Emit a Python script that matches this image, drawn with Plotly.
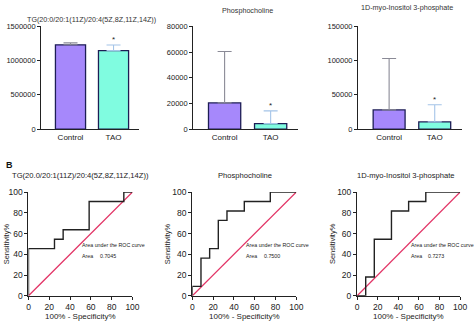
import plotly.graph_objects as go

W, H = 474, 326

# ---------------- data ----------------
categories = ["Control", "TAO"]

tg_means = [1230000, 1145000]
tg_err = [28000, 83000]
pc_means = [20400, 4300]
pc_err = [40000, 9900]
ins_means = [28000, 10500]
ins_err = [75000, 25000]

tg_ticks = [0, 500000, 1000000, 1500000]
pc_ticks = [0, 20000, 40000, 60000, 80000]
ins_ticks = [0, 50000, 100000, 150000]

bar_titles = ["TG(20:0/20:1(11Z)/20:4(5Z,8Z,11Z,14Z))", "Phosphocholine",
              "1D-myo-Inositol 3-phosphate"]
roc_titles = ["TG(20.0/20:1(11Z)/20:4(5Z,8Z,11Z,14Z))", "Phosphocholine",
              "1D-myo-Inositol 3-phosphate"]

# ROC step vertices (100% - specificity %, sensitivity %)
tg_fpr = [0, 0, 25, 33.33, 58.33, 91.67, 100]
tg_tpr = [0, 45.45, 54.55, 63.64, 90.91, 100, 100]
pc_fpr = [0, 0, 8.33, 16.67, 25, 33.33, 50, 75, 100]
pc_tpr = [0, 9.09, 36.36, 45.45, 72.73, 81.82, 90.91, 100, 100]
ins_fpr = [0, 8.33, 16.67, 33.33, 50, 66.67, 100]
ins_tpr = [0, 18.18, 54.55, 81.82, 90.91, 100, 100]
auc_values = ["0.7045", "0.7500", "0.7273"]
roc_ticks = [0, 20, 40, 60, 80, 100]

# ---------------- styling ----------------
FONT = "Liberation Sans, Arial, sans-serif"
BAR_COLORS = ["#a688fb", "#80fce0"]
ERR_COLORS = ["#8a8a96", "#a4c4e8"]
OUTLINE = "#1d1d55"
AX = "#222222"
RED = "#e23466"


def fx(p):
    return p / W


def fy(p):
    return 1 - p / H


def paper_text(x, y, text, size, color="#222", angle=0, xanchor="center"):
    return dict(x=fx(x), y=fy(y), xref="paper", yref="paper", text=text,
                showarrow=False, xanchor=xanchor, yanchor="middle",
                textangle=angle, font=dict(size=size, family=FONT, color=color))


fig = go.Figure()

bar_sets = [(tg_means, tg_err, tg_ticks), (pc_means, pc_err, pc_ticks),
            (ins_means, ins_err, ins_ticks)]
bar_xdom = [(40, 140), (195, 302), (363, 469)]
bar_ydom = (22, 128)
title_y = [15, 6, 3]
title_x = [91, 250, 413]

layout = dict(width=W, height=H, autosize=False,
              margin=dict(l=0, r=0, t=0, b=0),
              paper_bgcolor="white", plot_bgcolor="white",
              showlegend=False, font=dict(family=FONT, color="#222"))
annotations = []

for i, (means, errs, ticks) in enumerate(bar_sets):
    n = i + 1
    xa = "x" if n == 1 else f"x{n}"
    ya = "y" if n == 1 else f"y{n}"
    for j in range(2):
        fig.add_trace(go.Bar(
            x=[categories[j]], y=[means[j]], xaxis=xa, yaxis=ya,
            width=0.7,
            marker=dict(color=BAR_COLORS[j], line=dict(color=OUTLINE, width=1.3)),
            error_y=dict(type="data", array=[errs[j]], arrayminus=[0],
                         symmetric=False, color=ERR_COLORS[j],
                         thickness=1.1, width=7),
        ))
    # significance asterisk above TAO
    annotations.append(dict(x=categories[1], y=means[1] + errs[1], xref=xa, yref=ya,
                            text="*", showarrow=False, yshift=5,
                            xanchor="center", yanchor="middle",
                            font=dict(size=8, family=FONT, color="#222")))
    d0, d1 = bar_xdom[i]
    layout["xaxis" if n == 1 else f"xaxis{n}"] = dict(
        domain=[fx(d0), fx(d1)], anchor=ya, type="category",
        range=[-0.68, 1.6], showline=True, linecolor=AX, linewidth=1.2,
        ticks="", showgrid=False, zeroline=False,
        tickfont=dict(size=8, family=FONT, color="#222"))
    layout["yaxis" if n == 1 else f"yaxis{n}"] = dict(
        domain=[fy(bar_ydom[1]), fy(bar_ydom[0])], anchor=xa,
        range=[0, ticks[-1]], tickvals=ticks, ticktext=[str(t) for t in ticks],
        showline=True, linecolor=AX, linewidth=1.2, ticks="outside",
        ticklen=3, tickcolor=AX, showgrid=False, zeroline=False,
        tickfont=dict(size=7.5, family=FONT, color="#222"))
    annotations.append(paper_text(title_x[i], title_y[i], bar_titles[i], 7.2, "#333"))

roc_sets = [(tg_fpr, tg_tpr), (pc_fpr, pc_tpr), (ins_fpr, ins_tpr)]
roc_xdom = [(27, 133), (194, 300), (362, 467)]
roc_ydom = (193, 300)
roc_title_x = [80, 248, 412]
ytitle_x = [5, 169, 337]

for i, (fpr, tpr) in enumerate(roc_sets):
    n = i + 4
    xa, ya = f"x{n}", f"y{n}"
    fig.add_trace(go.Scatter(x=[0, 100], y=[0, 100], xaxis=xa, yaxis=ya,
                             mode="lines", line=dict(color=RED, width=1.3)))
    fig.add_trace(go.Scatter(x=fpr, y=tpr, xaxis=xa, yaxis=ya, mode="lines",
                             line=dict(color="#222", width=1.4, shape="hv")))
    d0, d1 = roc_xdom[i]
    common = dict(range=[0, 100], tickvals=roc_ticks, showline=True,
                  linecolor=AX, linewidth=1.2, ticks="outside", ticklen=3,
                  tickcolor=AX, showgrid=False, zeroline=False,
                  tickfont=dict(size=8.5, family=FONT, color="#222"))
    layout[f"xaxis{n}"] = dict(domain=[fx(d0), fx(d1)], anchor=ya, **common)
    layout[f"yaxis{n}"] = dict(domain=[fy(roc_ydom[1]), fy(roc_ydom[0])],
                               anchor=xa, **common)
    annotations.append(paper_text(roc_title_x[i], 176, roc_titles[i], 7.6))
    annotations.append(paper_text((d0 + d1) / 2, 321, "100% - Specificity%", 8))
    annotations.append(paper_text(ytitle_x[i], 246, "Sensitivity%", 7.5, angle=-90))
    for tx, ty, txt in [(50, 48.5, "Area under the ROC curve"),
                        (50, 38, "Area"), (67, 38, auc_values[i])]:
        annotations.append(dict(x=tx, y=ty, xref=xa, yref=ya, xanchor="left",
                                yanchor="middle", text=txt, showarrow=False,
                                font=dict(size=5.3, family=FONT, color="#222")))

annotations.append(paper_text(2, 165, "<b>B</b>", 9, "#111", xanchor="left"))

layout["annotations"] = annotations
fig.update_layout(**layout)
fig.write_html("out.html")
